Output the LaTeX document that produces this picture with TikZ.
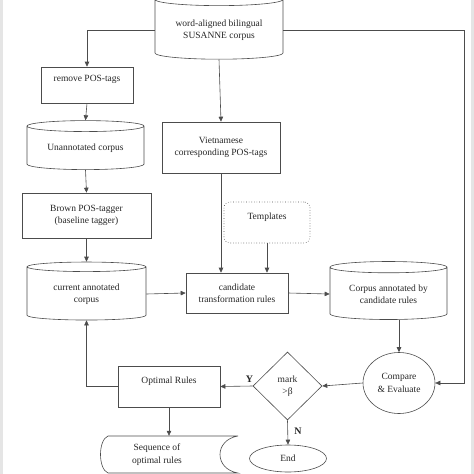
\documentclass[tikz,border=0pt]{standalone}
\usepackage{fontspec}
\setmainfont{Liberation Serif}
\usetikzlibrary{arrows.meta,shapes.geometric,positioning,calc}

\begin{document}
\begin{tikzpicture}[
    x=1pt, y=-1pt,
    font=\fontsize{9.5}{12.5}\selectfont,
    every node/.style={text=black!85},
    box/.style={draw=black!70, line width=0.6pt, rectangle, align=center, inner sep=1pt},
    db/.style={draw=black!70, line width=0.6pt, cylinder, shape border rotate=90, aspect=0.14, align=center, inner sep=1pt},
    tmpl/.style={box, dotted, rounded corners=6pt},
    oval/.style={draw=black!70, line width=0.6pt, ellipse, align=center, inner sep=0pt},
    choice/.style={draw=black!70, line width=0.6pt, diamond, align=center, inner sep=0pt},
    arr/.style={-{Triangle[length=5pt,width=4.5pt]}, draw=black!70, line width=0.6pt},
    yn/.style={font=\fontsize{10}{12}\selectfont\bfseries}
]
\useasboundingbox (0,0) rectangle (474,474);
\fill[gray!20] (0,0) rectangle (3,474);
\fill[gray!20] (471,0) rectangle (474,474);

\node[db, minimum width=128pt, minimum height=66pt] (src) at (219,30) {word-aligned bilingual\\SUSANNE corpus};
\node[box, minimum width=92pt, minimum height=36pt] (remove) at (87,85) {remove POS-tags\\\mbox{}};
\node[db, minimum width=117pt, minimum height=49pt] (unann) at (85.5,148.5) {Unannotated corpus};
\node[box, minimum width=118pt, minimum height=51pt] (viet) at (221,147.5) {Vietnamese\\corresponding POS-tags};
\node[box, minimum width=129pt, minimum height=45pt] (brown) at (86.5,215.5) {Brown POS-tagger\\(baseline tagger)};
\node[tmpl, minimum width=86pt, minimum height=41pt] (templ) at (267,222.5) {Templates\\\mbox{}};
\node[db, minimum width=119pt, minimum height=58pt] (cur) at (86.5,294) {current annotated\\corpus};
\node[box, minimum width=102pt, minimum height=40pt] (cand) at (237,293) {candidate\\transformation rules};
\node[db, minimum width=117pt, minimum height=58pt] (ann) at (388.5,294) {Corpus annotated by\\candidate rules};
\node[oval, minimum width=72pt, minimum height=61pt] (cmp) at (399,383) {Compare\\\& Evaluate};
\node[choice, minimum width=69pt, minimum height=68pt] (mark) at (287.5,386) {mark\\>β};
\node[box, minimum width=102pt, minimum height=41pt] (opt) at (169,386.5) {Optimal Rules\\\mbox{}};
\node[align=center, minimum height=37pt, inner sep=0pt] (seq) at (157,454.5) {Sequence of\\optimal rules};
\node[oval, minimum width=77pt, minimum height=27pt] (fin) at (288,458.5) {End};
\coordinate (rside) at (464,0);

% stored-data outline round the sequence text
\draw[draw=black!70, line width=0.6pt] ($(seq.center)+(81,-18.5)$) -- ($(seq.center)+(-49,-18.5)$)
    .. controls ($(seq.center)+(-59,-14.5)$) and ($(seq.center)+(-59,14.5)$) .. ($(seq.center)+(-49,18.5)$)
    -- ($(seq.center)+(81,18.5)$)
    .. controls ($(seq.center)+(57,14.5)$) and ($(seq.center)+(57,-14.5)$) .. ($(seq.center)+(81,-18.5)$);

\draw[arr] (src.west) -| (remove.north);
\draw[arr] (src.south) -- (viet.north);
\draw[arr] (src.east) -- (src.east -| rside) -- (rside |- cmp) -- (cmp.east);
\draw[arr] (remove.south) -- (unann.north);
\draw[arr] (unann.south) -- (brown.north);
\draw[arr] (brown.south) -- (cur.north);
\draw[arr] (viet.south) -- (viet.south |- cand.north);
\draw[arr] (templ.south) -- (templ.south |- cand.north);
\draw[arr] (cur.east) -- (cand.west);
\draw[arr] (cand.east) -- (ann.west);
\draw[arr] (ann.south -| cmp) -- (cmp.north);
\draw[arr] (cmp.west) -- (mark.east);
\draw[arr] (mark.west) -- node[yn, above, pos=0.1] {Y} (opt.east);
\draw[arr] (mark.south) -- node[yn, right, pos=0.45, xshift=3pt] {N} (fin.north);
\draw[arr] (opt.west) -| (cur.south);
\draw[arr] (opt.south) -- (opt.south |- seq.north);
\end{tikzpicture}
\end{document}
